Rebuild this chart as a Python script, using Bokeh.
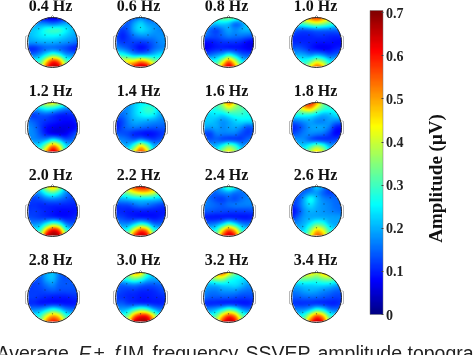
import numpy as np
from bokeh.embed import file_html
from bokeh.resources import INLINE
from bokeh.plotting import figure
from bokeh.models import LinearColorMapper, ColorBar, FixedTicker, Range1d
from bokeh.core.properties import value

labels = ["0.4 Hz","0.6 Hz","0.8 Hz","1.0 Hz","1.2 Hz","1.4 Hz","1.6 Hz","1.8 Hz",
          "2.0 Hz","2.2 Hz","2.4 Hz","2.6 Hz","2.8 Hz","3.0 Hz","3.2 Hz","3.4 Hz"]

hz04 = [[12,12,8,6,5,6,10,12,12],[18,18,18,17,15,17,20,20,20],[22,22,24,29,31,31,26,22,20],[20,22,24,25,25,24,22,20,18],[19,19,20,20,20,19,18,17,15],[10,9,12,14,14,13,12,9,8],[14,15,18,24,30,26,18,17,16],[25,26,28,46,60,54,32,26,25],[30,30,35,58,68,66,42,30,30]]
hz06 = [[15,14,12,14,17,14,13,14,15],[18,15,14,20,24,19,18,17,17],[15,11,14,21,24,22,19,17,17],[13,9,12,16,18,18,17,18,18],[14,11,12,12,11,12,14,17,18],[18,16,13,10,7,9,14,16,17],[27,27,22,17,16,17,20,24,25],[38,42,44,44,52,46,36,30,27],[42,46,50,62,68,66,48,30,27]]
hz08 = [[30,30,30,34,36,32,28,26,26],[24,22,22,22,20,13,15,24,24],[20,14,11,16,20,17,20,21,20],[16,14,13,15,17,16,16,15,14],[8,8,10,11,11,11,10,7,6],[6,8,9,9,8,8,8,7,6],[13,14,17,19,26,20,14,13,14],[26,26,26,38,56,40,24,20,20],[32,32,34,54,68,54,34,28,28]]
hz10 = [[34,38,48,56,60,55,42,34,32],[24,28,32,36,40,36,32,26,24],[16,13,12,13,14,14,14,14,16],[11,10,10,10,11,11,10,10,10],[10,10,10,10,9,9,9,8,8],[14,14,12,9,7,6,7,9,10],[18,20,19,16,18,16,12,14,15],[26,27,26,30,40,34,24,22,22],[30,30,30,46,58,50,30,28,28]]
hz12 = [[26,34,38,44,46,40,32,28,26],[16,18,22,26,24,20,16,15,15],[11,11,13,13,11,9,9,10,12],[16,14,12,11,10,9,8,8,10],[18,16,12,8,7,6,6,6,9],[18,17,13,8,5,5,6,10,14],[17,17,16,17,24,20,13,14,17],[22,23,24,38,56,44,24,20,20],[26,26,32,52,68,56,28,24,24]]
hz14 = [[15,16,18,22,24,24,22,18,18],[17,16,18,22,26,30,30,22,20],[16,15,18,22,25,27,26,20,18],[10,12,17,20,20,19,18,17,16],[8,13,16,17,16,15,14,14,14],[14,13,12,9,8,7,8,10,12],[17,17,15,13,16,13,11,13,15],[20,20,20,30,48,36,20,19,20],[22,22,26,46,60,48,24,22,22]]
hz16 = [[28,28,30,38,56,42,30,26,24],[26,26,28,32,40,34,32,28,26],[22,23,24,22,25,28,28,27,26],[22,22,20,17,19,22,24,24,24],[20,19,20,17,19,20,18,12,14],[12,11,17,17,17,17,13,11,13],[14,13,14,11,10,10,11,15,17],[20,20,20,26,36,30,19,18,20],[24,24,26,38,46,38,26,22,22]]
hz18 = [[36,42,60,62,52,34,28,26,26],[32,36,46,50,38,30,28,27,27],[26,27,26,25,22,19,20,24,26],[15,16,18,19,16,16,19,17,16],[9,11,15,19,20,20,17,9,8],[12,14,17,18,17,16,12,7,8],[18,18,17,12,9,9,10,12,14],[22,22,22,28,36,30,20,18,18],[26,26,28,40,48,42,26,22,22]]
hz20 = [[20,24,28,42,52,42,22,18,18],[14,15,20,28,32,26,18,14,14],[12,12,13,16,17,16,14,12,12],[11,11,10,10,10,10,10,10,10],[11,12,11,10,9,8,8,8,9],[13,12,11,10,9,8,8,9,11],[17,17,18,24,32,28,16,13,14],[24,24,26,50,64,58,30,20,20],[30,30,38,66,70,68,44,26,26]]
hz22 = [[36,42,50,60,62,62,52,42,36],[28,30,36,42,46,46,42,32,28],[20,20,21,22,22,22,22,21,20],[11,12,12,15,17,16,14,12,11],[10,10,9,9,9,9,9,9,9],[13,12,10,9,8,8,8,9,11],[17,17,16,20,26,22,14,14,15],[24,24,26,44,58,52,28,22,22],[30,30,38,60,68,64,40,28,28]]
hz24 = [[16,16,17,24,34,26,18,16,16],[15,14,15,17,18,15,15,16,17],[17,15,12,11,14,12,15,17,17],[17,16,15,14,16,17,17,17,17],[14,14,13,13,12,12,12,12,13],[9,8,8,8,8,8,8,8,9],[15,15,16,20,28,22,16,15,16],[23,23,26,44,58,48,28,22,22],[28,28,34,58,68,62,36,26,26]]
hz26 = [[18,16,13,14,24,18,12,12,14],[15,13,15,17,18,14,11,13,15],[12,13,20,28,21,17,16,15,15],[11,14,20,24,20,18,17,15,15],[7,11,18,20,19,18,17,16,15],[10,15,19,19,19,19,19,19,19],[17,18,20,24,30,28,20,19,19],[21,21,22,34,48,42,28,21,21],[24,24,28,42,58,52,32,24,24]]
hz28 = [[14,14,15,20,22,16,12,12,13],[12,13,14,20,22,15,13,14,14],[12,12,13,16,18,14,14,14,14],[12,12,12,13,14,13,13,13,13],[12,12,11,10,9,9,9,10,11],[10,10,8,8,8,8,8,8,9],[16,17,18,22,28,24,17,15,15],[24,24,28,42,52,46,30,24,24],[28,28,34,54,62,58,38,28,28]]
hz30 = [[26,30,38,52,50,30,22,20,20],[20,24,30,34,30,22,20,20,20],[14,14,15,16,14,13,13,14,15],[14,12,11,11,10,10,10,12,13],[11,11,10,10,9,9,10,10,11],[14,14,11,10,9,9,9,9,10],[19,19,21,28,34,30,20,16,16],[26,26,34,54,62,62,46,26,24],[32,32,46,66,68,68,54,30,28]]
hz32 = [[30,40,52,58,46,34,28,26,26],[26,30,38,38,28,25,24,22,22],[20,20,20,22,23,24,22,18,18],[18,16,16,18,18,18,16,15,15],[16,14,14,14,14,13,12,12,13],[10,9,9,8,8,8,8,8,10],[17,18,20,25,32,28,19,16,17],[26,26,32,48,60,54,34,26,26],[30,30,40,60,68,64,44,30,30]]
hz34 = [[36,40,44,48,40,50,50,40,34],[28,32,34,32,30,34,36,32,28],[20,21,22,22,23,23,22,20,18],[16,17,19,20,19,17,16,14,14],[14,14,15,15,15,14,13,12,12],[11,10,10,10,9,9,9,9,11],[16,17,17,20,28,24,16,15,16],[24,24,28,44,58,50,30,24,24],[28,28,36,58,68,62,38,28,28]]
panels = [hz04,hz06,hz08,hz10,hz12,hz14,hz16,hz18,hz20,hz22,hz24,hz26,hz28,hz30,hz32,hz34]

cbar_ticks = [0, 0.1, 0.2, 0.3, 0.4, 0.5, 0.6, 0.7]
cbar_title = "Amplitude (\u03bcV)"
electrodes = [(-.55,-.55),(0,-.6),(.55,-.55),(-.3,-.3),(.3,-.3),(-.65,0),(-.3,0),(0,0),(.3,0),(.65,0),
              (-.3,.3),(.3,.3),(-.55,.6),(0,.65),(.55,.6)]

anchors = [(0,0,131),(0,0,255),(0,255,255),(255,255,0),(255,0,0),(128,0,0)]
stops = [0,.11,.36,.62,.87,1]
xs = np.linspace(0, 1, 256)
jet = ["#%02x%02x%02x" % tuple(int(np.interp(t, stops, [a[k] for a in anchors])) for k in range(3)) for t in xs]
mapper = LinearColorMapper(palette=jet, low=0, high=0.7, nan_color="#ffffff")
bar_mapper = LinearColorMapper(palette=jet, low=0, high=0.705)

W, H = 474, 355
p = figure(width=W, height=H, x_range=Range1d(0, W), y_range=Range1d(0, H), output_backend="svg",
           toolbar_location=None, min_border=0, outline_line_color=None)
p.axis.visible = False
p.grid.visible = False
p.styles = {"position": "fixed", "left": "0px", "top": "0px"}

def Y(y):
    return H - y

col_x = [52, 140, 228, 316]
row_y = [42, 127, 211, 297]
title_x = [50, 138, 226, 315]
title_y = [5, 90, 174, 259]
R = 25.0
N = 100

def topo(vals):
    a = np.array(vals, float) / 100
    g = np.linspace(0, 8, N)
    tmp = np.array([np.interp(g, np.arange(9), r) for r in a])
    up = np.array([np.interp(g, np.arange(9), tmp[:, j]) for j in range(N)]).T
    k = np.ones(11) / 11
    pad = 11
    e = np.pad(up, pad, mode="edge")
    e = np.apply_along_axis(lambda m: np.convolve(m, k, mode="same"), 0, e)
    e = np.apply_along_axis(lambda m: np.convolve(m, k, mode="same"), 1, e)
    up = e[pad:-pad, pad:-pad]
    yy, xx = np.mgrid[-1:1:N*1j, -1:1:N*1j]
    up[xx**2 + yy**2 > 1] = np.nan
    return up[::-1]

for i, vals in enumerate(panels):
    r, c = divmod(i, 4)
    cx, cy = col_x[c], row_y[r]
    p.image(image=[topo(vals)], x=cx-R, y=Y(cy)-R, dw=2*R, dh=2*R, color_mapper=mapper)
    p.circle(x=[cx], y=[Y(cy)], radius=R, fill_color=None, line_color="#111111", line_width=0.9)
    # ears and nose
    for s in (-1, 1):
        p.line(x=[cx+s*R, cx+s*(R+2), cx+s*(R+2), cx+s*R],
               y=[Y(cy)+7, Y(cy)+6, Y(cy)-6, Y(cy)-7], line_color="#888888", line_width=0.6)
    p.line(x=[cx-2, cx, cx+2], y=[Y(cy)+R, Y(cy)+R+2, Y(cy)+R], line_color="#555555", line_width=0.6)
    p.scatter(x=[cx+R*e[0] for e in electrodes], y=[Y(cy)-R*e[1] for e in electrodes],
              size=1.3, marker="circle", color="#112233", line_color=None, alpha=0.5)
    p.text(x=[title_x[c]], y=[Y(title_y[r])], text=[labels[i]], text_font=value("Liberation Serif"),
           text_font_style="bold", text_font_size="16px", text_align="center", text_baseline="middle",
           text_color="#111111")

cb = ColorBar(color_mapper=bar_mapper, location=(369.5, H-314), width=13, height=304, padding=0, margin=0,
              ticker=FixedTicker(ticks=cbar_ticks), major_label_overrides={0: "0"},
              major_label_text_font="Liberation Serif", major_label_text_font_style="bold",
              major_label_text_font_size="14px", major_label_text_color="#222222", label_standoff=3,
              major_tick_line_color="#444444", major_tick_in=2, major_tick_out=0, bar_line_color="#777777",
              bar_line_width=0.5, background_fill_color=None, border_line_color=None)
p.add_layout(cb)

p.text(x=[435], y=[Y(178)], text=[cbar_title], angle=np.pi/2, text_font=value("Liberation Serif"),
       text_font_style="bold", text_font_size="19px", text_align="center", text_baseline="middle",
       text_color="#111111")

caption = [("Average", "normal", -4), ("F", "italic", 78), ("+", "normal", 93), ("f", "italic", 114),
           ("IM", "normal", 122), ("frequency", "normal", 152), ("SSVEP", "normal", 245),
           ("amplitude", "normal", 317), ("topogra", "normal", 407)]
for t, st, x in caption:
    p.text(x=[x], y=[Y(352)], text=[t], text_font=value("Liberation Sans"), text_font_style=st,
           text_font_size="19.5px", text_align="left", text_baseline="middle", text_color="#222222")

open("out.html", "w").write(file_html(p, INLINE))
